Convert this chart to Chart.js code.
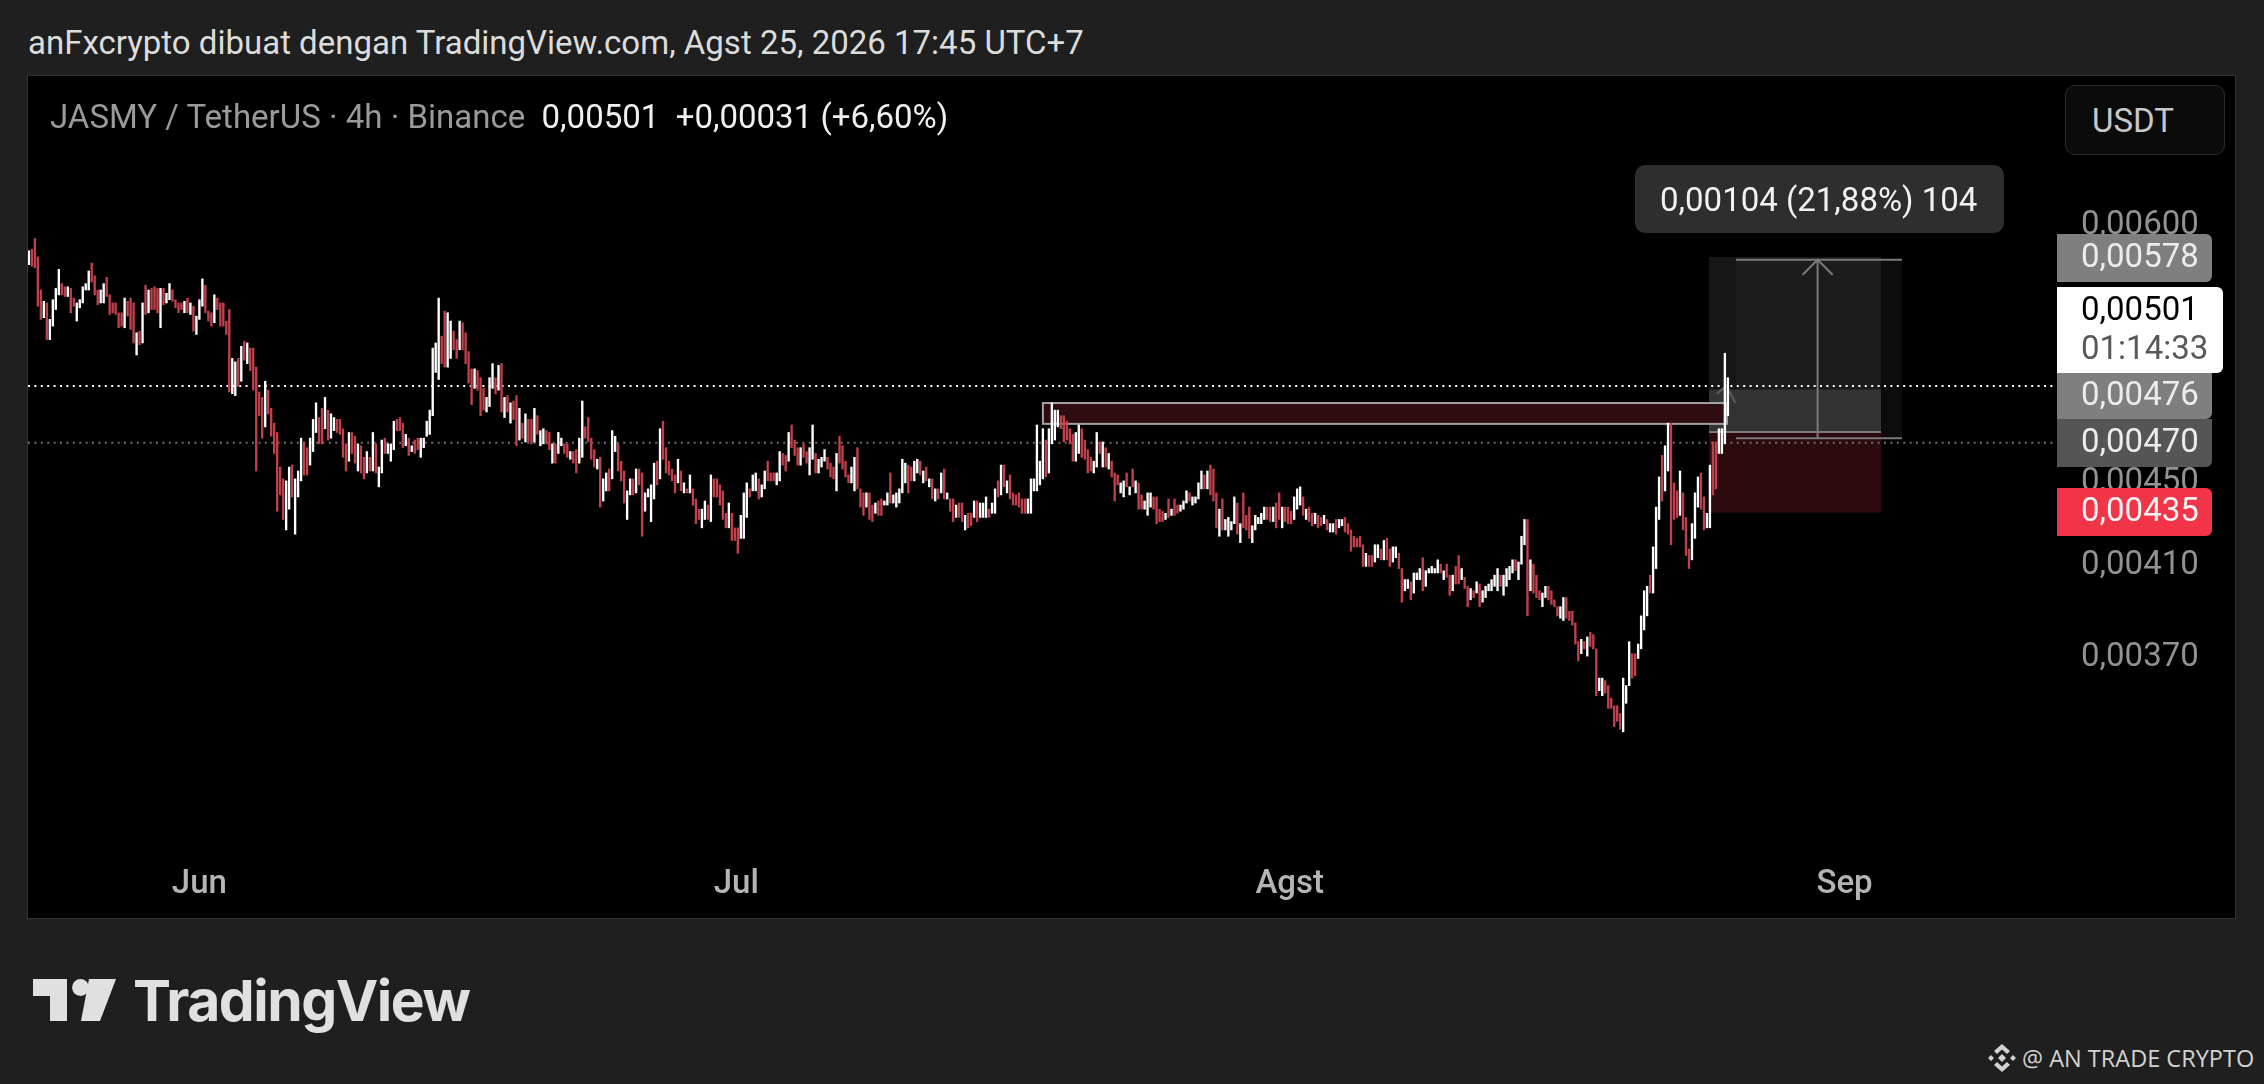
<!DOCTYPE html>
<html lang="id">
<head>
<meta charset="utf-8">
<title>JASMY / TetherUS</title>
<script src="https://cdn.jsdelivr.net/npm/chart.js@4/dist/chart.umd.min.js"></script>
<style>
  html, body { margin: 0; width: 2264px; height: 1084px; background: #1f1f1f; overflow: hidden; font-family: Roboto, sans-serif; }
  .abs { position: absolute; white-space: pre; }
  #panel { position: absolute; left: 28px; top: 76px; width: 2207px; height: 842px; background: #000; outline: 1px solid #333; }
  #title { left: 28px; top: 24px; font-size: 33px; line-height: 38px; color: #dcdcdc; }
  #legend { left: 50px; top: 98px; font-size: 33px; line-height: 38px; color: #9a9a9a; }
  #legend b { font-weight: 400; color: #f0f0f0; }
  #unit { left: 2065px; top: 85px; width: 160px; height: 70px; line-height: 70px; box-sizing: border-box; border: 1px solid #2a2a2a; border-radius: 10px; background: #0b0b0b; color: #c8c8c8; font-size: 33px; padding-left: 26px; }
  #brand { left: 133px; top: 966px; font-family: Inter, sans-serif; font-weight: 700; font-size: 57px; line-height: 70px; color: #e0e0e0; letter-spacing: -1.5px; }
  #credit { left: 2022px; top: 1042px; font-family: "Open Sans", sans-serif; font-size: 23.5px; line-height: 32px; color: #d2d2d2; }
  svg { position: absolute; }
</style>
</head>
<body>
<div id="panel"><canvas id="chart" width="2207" height="842"></canvas></div>
<div class="abs" id="title">anFxcrypto dibuat dengan TradingView.com, Agst 25, 2026 17:45 UTC+7</div>
<div class="abs" id="legend">JASMY / TetherUS · 4h · Binance  <b>0,00501  +0,00031 (+6,60%)</b></div>
<div class="abs" id="unit">USDT</div>
<svg style="left:0;top:0" width="130" height="1084" viewBox="0 0 130 1084">
  <path fill="#e0e0e0" d="M33 979H67V1021H50V996H33Z"/>
  <circle fill="#e0e0e0" cx="80.5" cy="987.5" r="8.4"/>
  <path fill="#e0e0e0" d="M89 979H116L100 1021H81Z"/>
</svg>
<div class="abs" id="brand">TradingView</div>
<svg style="left:1986px;top:1042px" width="32" height="32" viewBox="0 0 32 32">
  <path fill="#d2d2d2" d="M16 2l8 7-3 3-5-4.500-5 4.500-3-3zM16 30l-8-7 3-3 5 4.500 5-4.500 3 3zM5 13l3 3-3 3-3-3zM27 13l3 3-3 3-3-3zM16 12l4 4-4 4-4-4z"/>
</svg>
<div class="abs" id="credit">@ AN TRADE CRYPTO</div>

<script>
// 4h bars, prices in units of 0.00001
const highs = [
  581,582,589,577,556,549,548,538,550,557,569,560,558,558,557,551,548,550,558,560,
  568,573,565,556,556,560,564,553,548,548,542,542,551,549,551,548,530,531,548,559,
  556,557,558,557,557,557,554,560,556,550,548,548,549,551,548,546,540,550,563,559,
  543,542,553,551,548,548,537,544,515,513,515,522,525,524,521,521,510,496,493,502,
  497,487,479,474,456,450,449,456,457,450,454,471,469,466,471,481,490,482,487,493,
  486,484,482,481,481,476,468,474,474,472,468,467,461,464,461,474,468,456,470,471,
  468,468,480,481,482,479,473,471,467,470,471,471,471,480,486,521,524,551,528,543,
  542,537,531,526,537,536,530,519,509,509,508,504,498,493,504,512,504,511,512,493,
  494,490,491,494,487,479,484,481,481,487,483,475,476,475,474,468,468,474,471,468,
  468,464,464,465,471,491,477,482,471,465,460,461,450,453,455,475,472,468,459,454,
  444,450,450,455,455,453,443,445,447,458,459,476,480,466,459,455,452,460,454,448,
  445,452,445,440,435,435,439,437,452,450,450,447,444,433,438,433,426,426,432,443,
  448,445,452,453,450,447,454,459,453,453,453,464,463,462,474,478,470,466,466,468,
  464,466,478,463,460,461,465,461,458,456,463,472,467,459,452,456,461,466,445,443,
  443,443,437,438,439,440,439,443,453,442,443,445,460,458,457,456,459,460,459,454,
  456,450,450,445,445,453,455,443,440,440,437,438,438,432,433,433,439,439,438,438,
  441,435,438,445,449,457,457,449,452,443,442,443,440,440,440,450,450,478,459,476,
  470,476,490,486,486,483,483,480,476,473,474,478,476,470,465,461,459,474,469,469,
  466,463,459,453,452,448,449,453,446,455,449,448,442,439,443,443,441,441,435,434,
  433,440,435,440,437,437,439,444,443,441,441,448,454,452,454,457,455,443,435,440,
  430,431,429,441,438,428,443,432,436,427,432,431,433,436,436,436,436,438,443,436,
  436,436,434,441,445,446,441,435,436,433,433,432,431,432,430,428,428,430,430,430,
  431,428,425,422,421,422,418,414,413,413,418,418,416,420,421,416,417,417,414,407,
  402,402,401,405,405,407,412,406,407,408,407,411,409,406,409,404,404,408,413,407,
  403,399,398,397,401,400,397,399,400,402,404,407,404,404,407,408,411,411,410,422,
  430,430,411,409,404,397,396,399,399,397,393,390,390,394,394,388,388,383,375,376,
  375,377,379,378,372,360,360,359,357,352,349,349,346,360,357,375,370,370,374,386,
  397,399,404,417,436,451,462,467,479,479,448,444,454,443,431,416,428,443,451,453,
  441,433,457,469,469,476,476,518,504
];
const lows = [
  572,571,570,546,538,539,526,526,534,544,553,553,552,552,542,546,537,545,548,556,
  556,561,553,547,548,548,552,541,542,541,533,534,533,540,532,524,517,523,524,541,
  542,544,544,542,533,547,548,550,549,545,542,544,542,542,541,531,529,538,546,542,
  537,534,536,544,534,534,529,496,495,494,499,502,514,512,508,497,454,483,471,477,
  484,472,463,434,442,430,425,435,441,423,441,449,452,452,457,464,474,468,468,476,
  470,471,475,474,473,461,454,459,463,458,454,453,450,453,454,454,453,446,453,463,
  463,459,465,475,475,466,467,462,464,463,465,461,466,472,473,483,507,503,512,510,
  510,515,520,515,520,520,512,501,489,498,497,483,486,485,488,498,495,497,485,482,
  485,479,481,467,470,471,469,469,468,469,473,467,468,468,465,458,458,463,467,463,
  461,460,458,453,458,461,471,469,460,456,455,436,439,444,444,450,464,454,449,438,
  430,442,442,443,447,422,434,441,429,440,447,450,460,453,452,449,443,448,444,443,
  443,443,437,428,430,426,430,430,429,441,441,437,430,426,426,420,420,414,421,421,
  431,441,444,444,440,441,445,449,449,449,447,449,457,454,459,466,462,457,457,461,
  458,452,460,453,453,456,459,455,451,450,444,458,455,451,448,448,444,445,436,432,
  436,430,429,433,432,432,437,437,438,438,436,438,443,448,443,449,449,453,452,448,
  449,446,440,439,440,443,440,440,434,429,431,431,429,425,426,427,431,429,431,431,
  431,431,433,433,441,442,446,443,440,437,437,436,433,433,433,433,444,444,447,450,
  451,453,468,470,477,476,469,470,468,459,459,463,461,460,453,454,453,456,463,456,
  456,455,451,439,447,443,441,446,442,446,443,435,435,435,432,436,435,428,429,429,
  430,431,432,432,433,434,435,438,439,437,438,440,445,445,445,442,439,426,422,425,
  425,422,425,428,423,419,426,425,421,419,425,428,428,430,430,429,429,426,430,426,
  429,428,428,430,435,437,432,430,429,427,428,426,427,428,425,424,424,423,426,427,
  424,423,415,417,417,417,408,408,408,408,410,412,411,411,411,408,410,412,407,392,
  397,398,393,396,402,402,397,399,405,405,405,405,405,402,403,395,397,400,400,402,
  398,390,393,394,396,390,392,394,397,397,399,397,399,395,399,402,405,406,402,409,
  418,386,397,396,394,393,390,394,393,391,390,386,385,384,385,384,382,374,367,370,
  372,369,373,372,353,355,353,354,348,348,341,343,340,339,350,357,360,361,368,372,
  380,386,396,396,407,430,439,444,454,418,430,431,432,425,413,407,411,421,436,435,
  425,426,426,442,445,463,463,468,483
];
// 1 = rising bar (white), 0 = falling bar (red)
const rising = [
  1,0,0,0,0,1,0,1,1,1,1,0,0,1,0,0,1,1,1,1,
  1,0,0,0,1,1,0,0,0,0,0,0,1,0,0,0,1,0,1,0,
  1,0,0,0,1,0,1,1,0,0,0,0,1,0,1,0,1,1,1,0,
  0,0,1,0,0,0,0,0,1,1,0,1,0,1,0,0,0,0,0,1,
  0,0,0,0,0,0,1,1,0,1,1,1,0,0,1,1,1,0,0,1,
  0,1,1,0,0,0,0,1,0,0,1,0,0,1,0,1,0,1,1,0,
  1,1,1,0,0,0,1,0,1,0,0,1,1,1,1,1,1,1,0,0,
  1,1,0,0,1,0,0,0,0,1,0,0,0,1,1,1,0,1,0,1,
  0,1,0,0,1,0,1,0,0,1,0,1,1,0,0,1,0,1,1,0,
  0,1,0,0,1,1,0,0,0,0,1,0,1,1,0,1,1,0,0,0,
  1,1,0,1,0,0,1,1,1,1,0,1,0,0,0,0,0,1,0,1,
  0,1,0,0,0,1,1,0,1,0,0,0,0,0,1,0,0,0,1,1,
  1,0,1,1,0,1,1,0,0,0,1,1,0,0,1,0,0,0,1,0,
  0,1,1,0,1,1,1,0,0,0,1,0,0,0,0,1,1,0,0,0,
  1,0,0,1,0,0,1,1,0,1,1,1,1,1,0,0,1,1,0,1,
  0,1,0,1,0,1,0,1,0,0,1,0,0,1,0,0,1,0,1,1,
  1,0,1,1,0,1,0,1,0,0,0,0,0,0,1,1,1,1,1,1,
  0,1,1,1,1,0,0,0,0,0,1,1,0,0,0,0,1,1,0,1,
  0,1,0,0,0,1,1,0,1,0,1,0,0,1,1,1,0,0,0,0,
  1,0,1,0,0,1,1,1,0,1,1,1,1,0,1,0,0,0,1,0,
  1,1,1,1,0,1,0,0,0,1,1,1,1,1,0,0,1,0,0,1,
  0,0,0,1,1,1,0,1,0,0,1,0,0,1,0,1,1,0,1,1,
  0,0,0,0,0,0,0,1,0,0,1,1,0,1,0,0,1,1,0,0,
  1,1,0,1,1,1,0,1,1,1,1,1,0,1,0,0,1,0,0,1,
  0,0,1,0,1,0,1,1,1,1,1,1,0,1,1,1,1,0,1,1,
  1,0,1,0,0,0,1,1,0,0,0,0,1,1,0,0,0,0,0,1,
  0,1,0,0,0,1,1,0,0,0,0,0,0,1,1,1,0,0,1,1,
  1,1,0,1,1,1,0,1,1,0,0,0,1,0,0,0,1,1,1,0,
  0,1,1,0,0,1,1,1,1
];
const priceTicks = [370, 410, 450, 600];
const monthTicks = [57, 236.5, 421.5, 607];
const monthLabels = ['Jun', 'Jul', 'Agst', 'Sep'];

const fmt = v => (v / 1e5).toFixed(5).replace('.', ',');
const FONT = '33px Roboto, sans-serif';

// tick labels must not push the plot area in from the panel edges
const noAxisPadding = ax => {
  ax.paddingTop = ax.paddingBottom = ax.paddingLeft = ax.paddingRight = 0;
};

const overlays = {
  id: 'overlays',
  beforeDatasetsDraw(chart) {
    const { ctx, chartArea: a, scales: { x, y } } = chart;
    const rect = (i0, i1, p0, p1, fill) => {
      ctx.fillStyle = fill;
      ctx.fillRect(x.getPixelForValue(i0), y.getPixelForValue(p0), x.getPixelForValue(i1) - x.getPixelForValue(i0), y.getPixelForValue(p1) - y.getPixelForValue(p0));
    };
    ctx.save();
    // long position tool
    rect(561.7, 619.2, 577, 474.3, '#171717');
    rect(570.7, 619.2, 575.2, 474.3, '#1c1c1c');
    rect(561.7, 619.2, 497.3, 474.3, '#333333');
    rect(561.7, 619.2, 474.3, 433.3, '#2c0a0e');
    // price range tool
    rect(619.2, 626.2, 575.2, 470.9, '#0c0c0c');
    ctx.strokeStyle = '#7a7a7a';
    ctx.lineWidth = 2;
    const hline = (i0, i1, p) => {
      ctx.beginPath();
      ctx.moveTo(x.getPixelForValue(i0), y.getPixelForValue(p));
      ctx.lineTo(x.getPixelForValue(i1), y.getPixelForValue(p));
      ctx.stroke();
    };
    hline(570.7, 626.2, 575.2);
    hline(570.7, 626.2, 470.9);
    hline(561.7, 619.2, 474.3);
    const ax = x.getPixelForValue(598), ay = y.getPixelForValue(575.2);
    ctx.beginPath();
    ctx.moveTo(ax, y.getPixelForValue(470.9));
    ctx.lineTo(ax, ay);
    ctx.moveTo(ax - 15, ay + 15);
    ctx.lineTo(ax, ay);
    ctx.lineTo(ax + 15, ay + 15);
    ctx.stroke();
    // supply zone
    const zx0 = x.getPixelForValue(339), zx1 = x.getPixelForValue(567.7);
    const zy0 = y.getPixelForValue(489.9), zy1 = y.getPixelForValue(478.6);
    ctx.fillStyle = '#2f0c10';
    ctx.fillRect(zx0, zy0, zx1 - zx0, zy1 - zy0);
    ctx.strokeStyle = '#a3a3a3';
    ctx.strokeRect(zx0, zy0, zx1 - zx0, zy1 - zy0);
    // small chevron of the second range tool, next to the last bars
    ctx.strokeStyle = '#5e5e5e';
    ctx.beginPath();
    ctx.moveTo(x.getPixelForValue(564.3), y.getPixelForValue(495));
    ctx.lineTo(x.getPixelForValue(567.5), y.getPixelForValue(499.4));
    ctx.lineTo(x.getPixelForValue(570.5), y.getPixelForValue(490));
    ctx.stroke();
    // dotted price lines
    ctx.lineWidth = 2;
    ctx.setLineDash([2, 4.4]);
    ctx.strokeStyle = '#ffffff';
    ctx.beginPath();
    ctx.moveTo(a.left, y.getPixelForValue(499.4));
    ctx.lineTo(a.right, y.getPixelForValue(499.4));
    ctx.stroke();
    ctx.strokeStyle = '#6e6e6e';
    ctx.beginPath();
    ctx.moveTo(a.left, y.getPixelForValue(468.6));
    ctx.lineTo(a.right, y.getPixelForValue(468.6));
    ctx.stroke();
    ctx.restore();
  },
  afterDraw(chart) {
    const { ctx } = chart;
    ctx.save();
    ctx.font = FONT;
    ctx.textBaseline = 'middle';
    ctx.textAlign = 'left';
    const badge = (l, t, r, b, fill, radii) => {
      ctx.fillStyle = fill;
      ctx.beginPath();
      ctx.roundRect(l - 28, t - 76, r - l, b - t, radii);
      ctx.fill();
    };
    const label = (s, px, py, col) => {
      ctx.fillStyle = col;
      ctx.fillText(s, px - 28, py - 76);
    };
    // measured size tooltip
    badge(1635, 165, 2004, 233, '#2e2e2e', 10);
    label('0,00104 (21,88%) 104', 1660, 203, '#f2f2f2');
    // axis badges
    badge(2057, 234, 2212, 282, '#7f7f7f', [0, 6, 6, 0]);
    label('0,00578', 2081, 259, '#ececec');
    badge(2057, 373, 2212, 419, '#7f7f7f', [0, 0, 6, 0]);
    label('0,00476', 2081, 397, '#ececec');
    badge(2057, 419, 2212, 467, '#555555', [0, 0, 6, 0]);
    label('0,00470', 2081, 444, '#ececec');
    badge(2057, 488, 2212, 536, '#f23449', [0, 6, 6, 0]);
    label('0,00435', 2081, 513, '#f4f4f4');
    badge(2057, 287, 2223, 373, '#ffffff', [0, 6, 6, 0]);
    label('0,00501', 2081, 312, '#000000');
    label('01:14:33', 2081, 351, '#585858');
    ctx.restore();
  }
};

new Chart(document.getElementById('chart'), {
  type: 'bar',
  data: {
    datasets: [{
      data: highs.map((h, i) => ({ x: i, y: [lows[i], h] })),
      backgroundColor: rising.map(r => (r ? '#ffffff' : '#c0404b')),
      borderWidth: 0,
      barThickness: 1.7
    }]
  },
  options: {
    responsive: false,
    animation: false,
    devicePixelRatio: 1,
    layout: { padding: 0 },
    plugins: { legend: { display: false }, tooltip: { enabled: false } },
    scales: {
      x: {
        type: 'linear',
        offset: false,
        min: -0.3,
        max: 677.7,
        grid: { display: false, drawTicks: false },
        border: { display: false },
        afterBuildTicks: ax => { ax.ticks = monthTicks.map(v => ({ value: v })); },
        afterFit: ax => { ax.height = 72; noAxisPadding(ax); },
        ticks: {
          autoSkip: false,
          maxRotation: 0,
          padding: 19,
          color: '#b4b4b4',
          font: { family: 'Roboto', size: 33, weight: '500' },
          callback: v => monthLabels[monthTicks.indexOf(v)]
        }
      },
      y: {
        type: 'logarithmic',
        position: 'right',
        min: 298.3,
        max: 706.6,
        grid: { display: false, drawTicks: false },
        border: { display: false },
        afterBuildTicks: ax => { ax.ticks = priceTicks.map(v => ({ value: v })); },
        afterFit: ax => { ax.width = 179; noAxisPadding(ax); },
        ticks: {
          autoSkip: false,
          padding: 25,
          labelOffset: 4,
          color: '#929292',
          font: { family: 'Roboto', size: 33 },
          callback: v => fmt(v)
        }
      }
    }
  },
  plugins: [overlays]
});
</script>
</body>
</html>
